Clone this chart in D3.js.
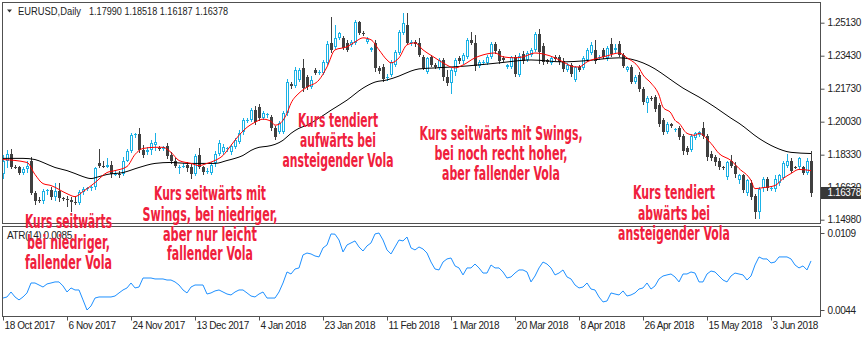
<!DOCTYPE html>
<html>
<head>
<meta charset="utf-8">
<script src="https://cdn.jsdelivr.net/npm/d3@7"></script>
<style>
  body { margin: 0; background: #fff; }
  svg { display: block; }
</style>
</head>
<body>
<svg id="chart" width="863" height="337"></svg>
<script>
// EURUSD daily bars, 18 Oct 2017 .. 14 Jun 2018
const opens = [
  1.1736,1.1803,1.1839,1.1772,1.1767,1.1741,1.1757,1.1803,1.1637,1.1601,
  1.1596,1.1648,1.1653,1.1617,1.1648,1.1612,1.1606,1.1601,1.1591,1.1586,
  1.1643,1.1658,1.1663,1.1669,1.1788,1.1777,1.1772,1.1782,1.1731,1.1736,
  1.1731,1.1803,1.1850,1.1933,1.1938,1.1855,1.1845,1.1855,1.1881,1.1865,
  1.1860,1.1876,1.1829,1.1798,1.1767,1.1772,1.1782,1.1772,1.1731,1.1829,
  1.1767,1.1746,1.1741,1.1788,1.1839,1.1845,1.1860,1.1845,1.1871,1.1896,
  1.1948,1.2005,1.2010,1.2062,1.2078,1.2021,1.2036,1.2026,1.1969,1.1948,
  1.1948,1.2047,1.2197,1.2187,1.2218,1.2280,1.2233,1.2181,1.2269,1.2254,
  1.2254,1.2306,1.2409,1.2389,1.2435,1.2435,1.2409,1.2399,1.2409,1.2518,
  1.2461,1.2414,1.2373,1.2409,1.2280,1.2285,1.2228,1.2244,1.2295,1.2357,
  1.2461,1.2503,1.2409,1.2414,1.2409,1.2337,1.2259,1.2337,1.2295,1.2280,
  1.2321,1.2233,1.2202,1.2259,1.2332,1.2316,1.2337,1.2425,1.2409,1.2290,
  1.2306,1.2306,1.2337,1.2404,1.2368,1.2332,1.2285,1.2285,1.2337,1.2244,
  1.2352,1.2321,1.2347,1.2373,1.2456,1.2394,1.2321,1.2306,1.2337,1.2337,
  1.2316,1.2269,1.2295,1.2218,1.2285,1.2280,1.2321,1.2357,1.2373,1.2332,
  1.2373,1.2332,1.2404,1.2373,1.2404,1.2347,1.2269,1.2285,1.2207,1.2244,
  1.2171,1.2098,1.2124,1.2130,1.2088,1.2010,1.1948,1.1990,1.1959,1.1969,
  1.1928,1.1865,1.1855,1.1917,1.1933,1.1969,1.1928,1.1839,1.1819,1.1803,
  1.1767,1.1720,1.1803,1.1777,1.1700,1.1726,1.1637,1.1689,1.1622,1.1539,
  1.1663,1.1710,1.1658,1.1658,1.1689,1.1715,1.1777,1.1803,1.1767,1.1767,
  1.1767,1.1741,1.17990
];
const highs = [
  1.1829,1.1855,1.1860,1.1782,1.1777,1.1772,1.1803,1.1819,1.1648,1.1617,
  1.1658,1.1658,1.1669,1.1689,1.1689,1.1617,1.1622,1.1617,1.1617,1.1653,
  1.1669,1.1669,1.1674,1.1772,1.1860,1.1803,1.1814,1.1803,1.1751,1.1751,
  1.1819,1.1860,1.1943,1.1943,1.1969,1.1881,1.1871,1.1907,1.1943,1.1876,
  1.1876,1.1891,1.1845,1.1814,1.1782,1.1788,1.1793,1.1788,1.1834,1.1865,
  1.1777,1.1762,1.1793,1.1850,1.1907,1.1886,1.1871,1.1886,1.1917,1.1959,
  1.2021,1.2021,1.2073,1.2083,1.2093,1.2057,1.2047,1.2036,1.1979,1.2005,
  1.2057,1.2223,1.2207,1.2285,1.2280,1.2326,1.2244,1.2238,1.2280,1.2269,
  1.2321,1.2420,1.2544,1.2503,1.2466,1.2446,1.2425,1.2425,1.2528,1.2523,
  1.2471,1.2440,1.2389,1.2425,1.2290,1.2300,1.2249,1.2321,1.2373,1.2477,
  1.2565,1.2565,1.2425,1.2425,1.2435,1.2347,1.2337,1.2347,1.2306,1.2332,
  1.2332,1.2269,1.2280,1.2332,1.2342,1.2357,1.2435,1.2466,1.2451,1.2321,
  1.2321,1.2347,1.2414,1.2414,1.2378,1.2342,1.2300,1.2342,1.2347,1.2357,
  1.2368,1.2368,1.2383,1.2466,1.2482,1.2409,1.2326,1.2337,1.2347,1.2347,
  1.2332,1.2306,1.2306,1.2290,1.2295,1.2342,1.2383,1.2414,1.2425,1.2347,
  1.2383,1.2394,1.2435,1.2404,1.2420,1.2357,1.2290,1.2295,1.2244,1.2259,
  1.2181,1.2135,1.2135,1.2140,1.2098,1.2021,1.2000,1.1995,1.1969,1.1979,
  1.1938,1.1876,1.1938,1.1948,1.1953,1.2000,1.1938,1.1850,1.1829,1.1814,
  1.1777,1.1803,1.1829,1.1793,1.1731,1.1736,1.1710,1.1700,1.1632,1.1669,
  1.1720,1.1720,1.1669,1.1726,1.1736,1.1798,1.1839,1.1814,1.1777,1.1819,
  1.1777,1.1814,1.18518
];
const lows = [
  1.1715,1.1772,1.1762,1.1762,1.1731,1.1731,1.1746,1.1632,1.1580,1.1591,
  1.1586,1.1632,1.1606,1.1601,1.1596,1.1601,1.1570,1.1544,1.1580,1.1580,
  1.1632,1.1653,1.1653,1.1658,1.1767,1.1767,1.1767,1.1720,1.1726,1.1720,
  1.1726,1.1798,1.1845,1.1922,1.1845,1.1819,1.1834,1.1839,1.1855,1.1855,
  1.1855,1.1814,1.1788,1.1772,1.1741,1.1767,1.1751,1.1715,1.1726,1.1762,
  1.1736,1.1741,1.1736,1.1777,1.1829,1.1839,1.1850,1.1839,1.1865,1.1891,
  1.1938,1.2000,1.2005,1.1990,1.2010,1.2016,1.2026,1.1959,1.1912,1.1943,
  1.1943,1.2036,1.2176,1.2181,1.2212,1.2161,1.2171,1.2176,1.2249,1.2249,
  1.2249,1.2300,1.2363,1.2383,1.2430,1.2378,1.2368,1.2394,1.2404,1.2456,
  1.2451,1.2409,1.2368,1.2264,1.2254,1.2212,1.2218,1.2238,1.2290,1.2352,
  1.2456,1.2404,1.2399,1.2394,1.2342,1.2275,1.2254,1.2290,1.2280,1.2275,
  1.2218,1.2192,1.2150,1.2244,1.2306,1.2306,1.2332,1.2404,1.2269,1.2285,
  1.2300,1.2300,1.2332,1.2357,1.2306,1.2316,1.2280,1.2280,1.2238,1.2238,
  1.2306,1.2316,1.2342,1.2368,1.2306,1.2300,1.2306,1.2300,1.2321,1.2300,
  1.2264,1.2264,1.2238,1.2212,1.2264,1.2275,1.2316,1.2352,1.2306,1.2326,
  1.2332,1.2321,1.2342,1.2363,1.2342,1.2285,1.2264,1.2202,1.2202,1.2161,
  1.2093,1.2052,1.2114,1.2057,1.1979,1.1938,1.1943,1.1974,1.1953,1.1912,
  1.1839,1.1839,1.1850,1.1912,1.1928,1.1917,1.1808,1.1808,1.1782,1.1757,
  1.1757,1.1710,1.1767,1.1720,1.1689,1.1643,1.1627,1.1606,1.1508,1.1508,
  1.1648,1.1653,1.1653,1.1648,1.1679,1.1710,1.1772,1.1746,1.1762,1.1762,
  1.1736,1.1736,1.16187
];
const closes = [
  1.1803,1.1839,1.1772,1.1767,1.1741,1.1757,1.1777,1.1637,1.1596,1.1596,
  1.1648,1.1653,1.1617,1.1648,1.1612,1.1606,1.1601,1.1591,1.1586,1.1643,
  1.1658,1.1663,1.1669,1.1762,1.1777,1.1772,1.1782,1.1731,1.1736,1.1731,
  1.1803,1.1850,1.1933,1.1938,1.1855,1.1829,1.1855,1.1891,1.1896,1.1860,
  1.1871,1.1824,1.1798,1.1777,1.1772,1.1777,1.1762,1.1731,1.1824,1.1767,
  1.1746,1.1751,1.1782,1.1839,1.1891,1.1871,1.1865,1.1876,1.1907,1.1943,
  1.2010,1.2010,1.2062,1.2000,1.2021,1.2047,1.2041,1.1969,1.1922,1.1995,
  1.2047,1.2207,1.2187,1.2269,1.2269,1.2176,1.2181,1.2218,1.2254,1.2259,
  1.2311,1.2404,1.2373,1.2435,1.2461,1.2383,1.2373,1.2414,1.2518,1.2461,
  1.2456,1.2430,1.2383,1.2280,1.2264,1.2223,1.2233,1.2311,1.2363,1.2466,
  1.2513,1.2409,1.2414,1.2404,1.2347,1.2280,1.2332,1.2295,1.2285,1.2321,
  1.2233,1.2202,1.2269,1.2321,1.2316,1.2347,1.2425,1.2409,1.2290,1.2311,
  1.2311,1.2337,1.2404,1.2368,1.2316,1.2321,1.2295,1.2337,1.2249,1.2342,
  1.2316,1.2357,1.2373,1.2456,1.2363,1.2311,1.2311,1.2332,1.2326,1.2311,
  1.2275,1.2295,1.2249,1.2285,1.2269,1.2332,1.2373,1.2399,1.2316,1.2337,
  1.2337,1.2383,1.2352,1.2383,1.2347,1.2290,1.2285,1.2207,1.2233,1.2171,
  1.2104,1.2124,1.2119,1.2067,1.1990,1.1948,1.1990,1.1979,1.1964,1.1922,
  1.1850,1.1845,1.1928,1.1943,1.1948,1.1928,1.1819,1.1814,1.1793,1.1767,
  1.1762,1.1793,1.1777,1.1731,1.1726,1.1653,1.1700,1.1617,1.1539,1.1658,
  1.1710,1.1663,1.1663,1.1710,1.1726,1.1788,1.1803,1.1751,1.1766,1.1814,
  1.1741,1.1803,1.16378
];

// moving averages as drawn on the chart (bar index -> value)
const fastMaBars = [0,6,8,10,12,16,18,20,23,26,28,31,33,35,38,40,42,44,47,49,
  51,53,55,57,59,61,63,65,67,68,69,70,71,72,74,76,79,81,83,86,
  88,90,92,94,96,97,99,101,103,105,108,110,113,115,118,120,123,125,128,130,
  133,135,138,140,143,144,146,149,151,154,156,159,160,162,164,165,167,168,169,171,
  173,174,177,179,182,184,187,188,190,193,195,197,199,202];
const fastMa = [1.1808,1.1793,1.1731,1.1684,1.1674,1.1632,1.1617,1.1643,1.1689,1.1741,
  1.1751,1.1772,1.1834,1.1865,1.1871,1.1871,1.1845,1.1803,1.1788,1.1777,
  1.1788,1.1803,1.1829,1.1881,1.1933,1.1974,1.2000,1.2016,1.2005,1.1985,
  1.1990,1.2010,1.2047,1.2098,1.2150,1.2181,1.2218,1.2285,1.2373,1.2389,
  1.2414,1.2435,1.2425,1.2373,1.2321,1.2306,1.2332,1.2399,1.2409,1.2373,
  1.2332,1.2306,1.2280,1.2295,1.2332,1.2347,1.2357,1.2337,1.2332,1.2337,
  1.2357,1.2352,1.2332,1.2311,1.2285,1.2285,1.2311,1.2332,1.2342,1.2357,
  1.2332,1.2280,1.2244,1.2202,1.2140,1.2078,1.2047,1.2010,1.1995,1.1943,
  1.1933,1.1943,1.1891,1.1839,1.1803,1.1762,1.1700,1.1658,1.1663,1.1674,
  1.1710,1.1736,1.1757,1.1751];
const slowMaBars = [0,5,8,10,13,16,18,20,22,24,26,30,34,38,42,46,50,53,56,58,
  60,62,64,66,68,70,72,74,76,79,82,86,90,93,96,99,102,104,108,116,
  124,132,140,145,154,160,163,166,170,174,178,182,184,189,193,197,202];
const slowMa = [1.1814,1.1814,1.1808,1.1793,1.1767,1.1751,1.1736,1.1720,1.1710,1.1720,
  1.1731,1.1741,1.1767,1.1788,1.1793,1.1788,1.1788,1.1788,1.1803,1.1814,
  1.1829,1.1855,1.1871,1.1876,1.1886,1.1907,1.1943,1.1969,1.1985,1.2021,
  1.2062,1.2114,1.2176,1.2207,1.2218,1.2238,1.2264,1.2275,1.2280,1.2290,
  1.2306,1.2321,1.2311,1.2316,1.2332,1.2306,1.2275,1.2233,1.2176,1.2130,
  1.2078,1.2021,1.1995,1.1917,1.1871,1.1845,1.1839];

// ATR(14), one value per bar
const atr = [
  0.00541,0.00550,0.00592,0.00550,0.00525,0.00550,0.00584,0.00668,0.00668,0.00651,
  0.00634,0.00660,0.00668,0.00677,0.00677,0.00643,0.00592,0.00626,0.00609,0.00609,
  0.00525,0.00440,0.00474,0.00541,0.00550,0.00550,0.00550,0.00550,0.00558,0.00584,
  0.00609,0.00626,0.00668,0.00626,0.00634,0.00710,0.00710,0.00710,0.00702,0.00702,
  0.00702,0.00693,0.00693,0.00677,0.00651,0.00609,0.00584,0.00634,0.00651,0.00651,
  0.00651,0.00575,0.00584,0.00601,0.00609,0.00592,0.00575,0.00567,0.00592,0.00609,
  0.00609,0.00584,0.00558,0.00550,0.00575,0.00592,0.00541,0.00541,0.00541,0.00592,
  0.00668,0.00761,0.00744,0.00786,0.00795,0.00905,0.00921,0.00913,0.00896,0.00888,
  0.00964,0.00989,0.01082,0.01080,0.01031,0.00930,0.00989,0.01006,0.01023,0.00972,
  0.00938,0.00981,0.01006,0.01082,0.01090,0.01031,0.00947,0.00913,0.00972,0.01031,
  0.01023,0.01056,0.00964,0.00947,0.00972,0.00955,0.00921,0.00845,0.00786,0.00778,
  0.00845,0.00871,0.00879,0.00812,0.00795,0.00736,0.00795,0.00795,0.00828,0.00795,
  0.00752,0.00752,0.00820,0.00795,0.00795,0.00761,0.00710,0.00719,0.00752,0.00778,
  0.00778,0.00761,0.00677,0.00727,0.00795,0.00845,0.00828,0.00795,0.00736,0.00752,
  0.00778,0.00719,0.00702,0.00651,0.00626,0.00634,0.00668,0.00617,0.00609,0.00550,
  0.00508,0.00516,0.00584,0.00575,0.00567,0.00601,0.00558,0.00567,0.00584,0.00617,
  0.00626,0.00668,0.00617,0.00643,0.00702,0.00727,0.00736,0.00744,0.00719,0.00677,
  0.00744,0.00744,0.00761,0.00752,0.00677,0.00677,0.00744,0.00769,0.00761,0.00727,
  0.00693,0.00677,0.00727,0.00752,0.00744,0.00736,0.00693,0.00727,0.00820,0.00888,
  0.00871,0.00871,0.00837,0.00845,0.00888,0.00888,0.00888,0.00871,0.00820,0.00795,
  0.00812,0.00778,0.00854
];

const priceTicks = [1.2513, 1.2343, 1.2173, 1.2003, 1.1833, 1.1663, 1.1498];
const atrTicks = [0.0109, 0.0044];
const dateTickBars = [0, 16, 32, 48, 64, 80, 96, 112, 128, 144, 160, 176, 192];
const dateTickLabels = ["18 Oct 2017", "6 Nov 2017", "24 Nov 2017", "13 Dec 2017", "4 Jan 2018",
  "23 Jan 2018", "11 Feb 2018", "1 Mar 2018", "20 Mar 2018", "8 Apr 2018",
  "26 Apr 2018", "15 May 2018", "3 Jun 2018"];

const symbolTitle = "EURUSD,Daily";
const atrTitle = "ATR(14) 0.0085";

const notes = [
  ["Kurs seitwärts", "bei niedriger,", "fallender Vola"],
  ["Kurs seitwärts mit", "Swings, bei niedriger,", "aber nur leicht", "fallender Vola"],
  ["Kurs tendiert", "aufwärts bei", "ansteigender Vola"],
  ["Kurs seitwärts mit Swings,", "bei noch recht hoher,", "aber fallender Vola"],
  ["Kurs tendiert", "abwärts bei", "ansteigender Vola"]
];

// ---- layout ----
const width = 863, height = 337;
const main = { left: 2.5, right: 820.5, top: 2.5, bottom: 223.5 };
const sub = { top: 226.5, bottom: 316.5 };
const upColor = "#1ab2e6", downColor = "#404040", frameColor = "#505050";
const noteColor = "#f0203c";
const uiFont = "'Liberation Sans', Arial, sans-serif";
const noteFont = "'Liberation Sans Narrow', 'DejaVu Sans Condensed', 'Liberation Sans', sans-serif";

// where each annotation block sits: centre x, baselines, line widths
const noteLayout = [
  { cx: 68.5, base: [228, 249, 269], w: [87, 83, 87] },
  { cx: 210, base: [200, 221, 240.5, 260], w: [112, 135, 94, 86] },
  { cx: 338, base: [126.5, 147, 166.5], w: [80, 76, 111] },
  { cx: 501, base: [139.5, 159.5, 180], w: [163, 133, 118] },
  { cx: 674, base: [198.5, 219.5, 239.5], w: [82, 72, 112] }
];

const x = d3.scaleLinear().domain([0, closes.length - 1]).range([3, 811]);
const y = d3.scaleLinear().domain([1.1498, 1.2513]).range([219.7, 22.7]);
const ya = d3.scaleLinear().domain([0.0044, 0.0109]).range([310, 233]);

const svg = d3.select("#chart");
svg.append("rect").attr("width", width).attr("height", height).attr("fill", "#fff");

const defs = svg.append("defs");
defs.append("clipPath").attr("id", "clip-main").append("rect")
  .attr("x", main.left + 0.5).attr("y", main.top + 0.5)
  .attr("width", main.right - main.left - 1).attr("height", main.bottom - main.top - 1);
defs.append("clipPath").attr("id", "clip-sub").append("rect")
  .attr("x", main.left + 0.5).attr("y", sub.top + 0.5)
  .attr("width", main.right - main.left - 1).attr("height", sub.bottom - sub.top - 1);

// panel frames
svg.append("rect")
  .attr("x", main.left).attr("y", main.top)
  .attr("width", main.right - main.left).attr("height", main.bottom - main.top)
  .attr("fill", "none").attr("stroke", frameColor);
svg.append("rect")
  .attr("x", main.left).attr("y", sub.top)
  .attr("width", main.right - main.left).attr("height", sub.bottom - sub.top)
  .attr("fill", "none").attr("stroke", frameColor);

// candles
const bars = closes.map((c, i) => ({ i, o: opens[i], h: highs[i], l: lows[i], c }));
const gCandles = svg.append("g").attr("clip-path", "url(#clip-main)");

const candle = gCandles.selectAll("g.candle")
  .data(bars)
  .enter()
  .append("g")
  .attr("class", "candle");

candle.append("line")
  .attr("x1", d => Math.round(x(d.i)) + 0.5)
  .attr("x2", d => Math.round(x(d.i)) + 0.5)
  .attr("y1", d => Math.round(y(d.h)))
  .attr("y2", d => Math.round(y(d.l)) + 1)
  .attr("stroke", d => (d.c >= d.o ? upColor : downColor));

candle.append("rect")
  .each(function (d) {
    const cx = Math.round(x(d.i));
    const top = Math.round(y(Math.max(d.o, d.c)));
    const bot = Math.round(y(Math.min(d.o, d.c)));
    const h = Math.max(1, bot - top);
    const sel = d3.select(this);
    if (d.c >= d.o && h > 2) {
      sel.attr("x", cx - 0.5).attr("y", top + 0.5).attr("width", 2).attr("height", h - 1)
        .attr("fill", "#fff").attr("stroke", upColor);
    } else {
      sel.attr("x", cx - 1).attr("y", top).attr("width", 3).attr("height", h)
        .attr("fill", d.c >= d.o ? upColor : downColor);
    }
  });

// moving averages
const maLine = d3.line().curve(d3.curveMonotoneX);
gCandles.append("path")
  .attr("d", maLine(slowMaBars.map((b, k) => [x(b), y(slowMa[k])])))
  .attr("fill", "none").attr("stroke", "#000").attr("stroke-width", 1);
gCandles.append("path")
  .attr("d", maLine(fastMaBars.map((b, k) => [x(b), y(fastMa[k])])))
  .attr("fill", "none").attr("stroke", "#ff0000").attr("stroke-width", 1);

// ATR line
svg.append("g").attr("clip-path", "url(#clip-sub)")
  .append("path")
  .attr("d", d3.line().x((d, i) => x(i)).y(d => ya(d))(atr))
  .attr("fill", "none").attr("stroke", "#1e90ff").attr("stroke-width", 1);

// axes
function styleAxis(g) {
  g.select(".domain").remove();
  g.selectAll(".tick line").attr("stroke", frameColor);
  g.selectAll(".tick text")
    .attr("fill", "#222")
    .style("font-family", uiFont)
    .style("font-size", "10px")
    .style("letter-spacing", "-0.4px");
}

svg.append("g")
  .attr("transform", `translate(${main.right},0)`)
  .call(d3.axisRight(y).tickValues(priceTicks).tickSize(4).tickPadding(3).tickFormat(d3.format(".5f")))
  .call(styleAxis);

svg.append("g")
  .attr("transform", `translate(${main.right},0)`)
  .call(d3.axisRight(ya).tickValues(atrTicks).tickSize(4).tickPadding(3).tickFormat(d3.format(".4f")))
  .call(styleAxis);

svg.append("g")
  .attr("transform", `translate(0,${sub.bottom})`)
  .call(d3.axisBottom(x).tickValues(dateTickBars).tickSize(4).tickPadding(1)
    .tickFormat((d, i) => dateTickLabels[i]))
  .call(styleAxis)
  .call(g => g.selectAll(".tick text").attr("text-anchor", "start").attr("x", 1));

// current price marker
const last = closes[closes.length - 1];
svg.append("rect")
  .attr("x", 821).attr("y", Math.round(y(last)) - 6)
  .attr("width", 40).attr("height", 12)
  .attr("fill", "#383838");
svg.append("text")
  .attr("x", 827.5).attr("y", y(last))
  .attr("dy", "0.35em")
  .attr("fill", "#fff")
  .style("font-family", uiFont).style("font-size", "10px").style("letter-spacing", "-0.4px")
  .text(d3.format(".5f")(last));

// header
svg.append("path")
  .attr("d", "M7,9.5 L12,9.5 L9.5,12.5 Z")
  .attr("fill", "#333");
svg.append("text")
  .attr("x", 18).attr("y", 14.5)
  .attr("fill", "#222")
  .attr("textLength", 63).attr("lengthAdjust", "spacingAndGlyphs")
  .style("font-family", uiFont).style("font-size", "10px")
  .text(symbolTitle);
svg.append("text")
  .attr("x", 89).attr("y", 14.5)
  .attr("fill", "#222")
  .attr("textLength", 139).attr("lengthAdjust", "spacingAndGlyphs")
  .style("font-family", uiFont).style("font-size", "10px")
  .text([opens, highs, lows, closes].map(a => d3.format(".5f")(a[a.length - 1])).join(" "));

svg.append("text")
  .attr("x", 7).attr("y", 238.5)
  .attr("fill", "#222")
  .style("font-family", uiFont).style("font-size", "10px").style("letter-spacing", "-0.4px")
  .text(atrTitle);

// annotations
const gNotes = svg.append("g");
notes.forEach((lines, k) => {
  const lay = noteLayout[k];
  lines.forEach((t, j) => {
    gNotes.append("text")
      .attr("x", lay.cx - lay.w[j] / 2)
      .attr("y", lay.base[j])
      .attr("textLength", lay.w[j])
      .attr("lengthAdjust", "spacingAndGlyphs")
      .attr("fill", noteColor)
      .style("font-family", noteFont)
      .style("font-weight", "bold")
      .style("font-size", "20px")
      .text(t);
  });
});
</script>
</body>
</html>
